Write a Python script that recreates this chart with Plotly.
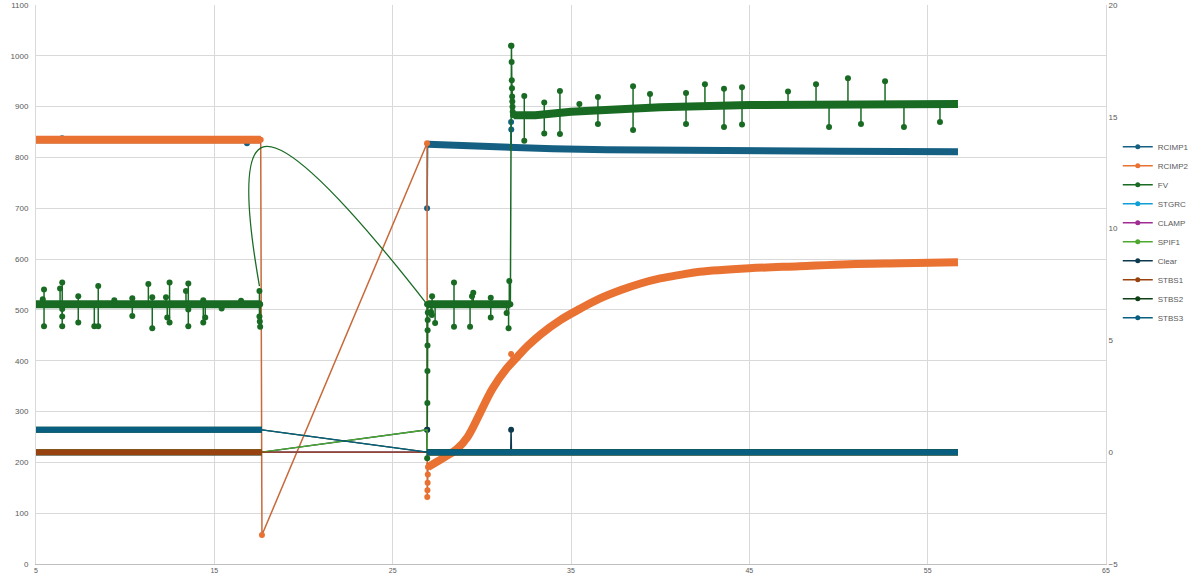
import numpy as np
import plotly.graph_objects as go

# ---------------- data (x = time, s) ----------------
# RCIMP1 (left axis)
rcimp1_a_t = [5.0, 17.6]
rcimp1_a_v = [835, 835]
rcimp1_b_t = [26.98, 29.0, 31.6, 34.0, 37.0, 42.0, 50.0, 56.7]
rcimp1_b_v = [826, 823, 820, 817, 815, 813, 812, 811]
rcimp1_jump_t = [26.93, 26.96]
rcimp1_jump_v = [700, 826]
rcimp1_spike_t = [6.46, 16.83, 31.64, 31.65]
rcimp1_spike_v = [838, 828, 870, 855]

# RCIMP2 (left axis)
rcimp2_a_t = [5.0, 17.6]
rcimp2_a_v = [835, 835]
rcimp2_link_t = [17.6, 17.67, 26.93, 26.94, 26.95, 26.96, 26.97, 26.98]
rcimp2_link_v = [835, 57, 828, 132, 145, 160, 176, 191]
rcimp2_b_t = [26.98, 27.8, 28.6, 29.2, 29.9, 30.6, 31.4, 32.0, 32.6, 33.3, 34.4,
              35.5, 36.6, 37.8, 38.9, 40.0, 41.1, 42.2, 45.0, 47.8, 50.6,
              53.5, 56.7]
rcimp2_b_v = [191, 208, 226, 250, 297, 345, 385, 408, 430, 452, 480,
              502, 522, 539, 552, 562, 569, 575, 582, 586, 590,
              592, 594]
rcimp2_spike_t = [31.64]
rcimp2_spike_v = [413]

# FV (left axis)
fv_a_t = [5.0, 17.6]
fv_a_v = [511, 511]
fv_b1_t = [26.98, 31.6]
fv_b1_v = [511, 511]
fv_b2_t = [31.8, 33.0, 35.0, 37.0, 40.0, 45.0, 50.0, 56.7]
fv_b2_v = [883, 883, 890, 895, 899, 903, 904, 905]
fv_gap_t = [17.53, 17.67, 26.93]
fv_gap_v = [547, 820, 511]
fv_rise_t = [26.93, 26.935, 26.94, 26.945, 26.95, 26.955, 26.96, 26.965, 26.97, 26.98]
fv_rise_v = [511, 208, 264, 317, 380, 430, 460, 480, 495, 511]
fv_jump_t = [31.6, 31.64, 31.66, 31.67, 31.68, 31.69, 31.7, 31.71, 31.72, 31.73, 31.75, 31.8]
fv_jump_v = [511, 1020, 1020, 988, 952, 936, 920, 910, 900, 890, 883, 883]
fv_spike_t = [5.38, 5.45, 5.45, 6.35, 6.47, 6.47, 6.47, 6.47, 7.37, 7.37, 8.27, 8.49, 8.49,
              9.39, 10.40, 10.40, 11.30, 11.52, 11.52, 12.29, 12.36, 12.49, 12.49, 13.41,
              13.54, 13.54, 13.54, 14.38, 14.38, 14.49, 15.41, 16.50, 17.53, 17.53, 17.55,
              17.57,
              27.15, 27.2, 27.21, 27.38, 28.44, 28.44, 29.34, 29.45, 29.52, 30.50, 30.50,
              31.39, 31.50, 31.54,
              32.38, 32.38, 33.50, 33.50, 34.38, 34.38, 35.47, 36.51, 36.51, 38.48, 38.48,
              39.43, 41.45, 41.45, 42.51, 43.58, 43.58, 44.59, 44.59, 47.17, 48.74, 49.47,
              50.53, 51.26, 52.61, 53.67, 55.69]
fv_spike_v = [521, 540, 468, 542, 554, 468, 487, 502, 527, 475, 468, 547, 468,
              519, 523, 488, 551, 525, 464, 525, 485, 554, 475, 537,
              552, 468, 501, 519, 475, 485, 503, 518, 537, 487, 477,
              467,
              496, 490, 527, 474, 554, 467, 467, 527, 534, 524, 485,
              494, 464, 557,
              921, 833, 908, 847, 931, 846, 905, 919, 866, 940, 854,
              925, 927, 866, 944, 935, 860, 938, 865, 930, 944, 860,
              956, 866, 950, 860, 870]

# Binary signals (right axis): points at start, gap start, gap end, end
stgrc_t, stgrc_v = [5.0, 17.67, 26.93, 56.7], [0, 0, 0, 0]
clamp_t, clamp_v = [5.0, 17.67, 26.93, 56.7], [0, 0, 0, 0]
clear_t = [5.0, 17.67, 26.93, 26.95, 31.62, 31.64, 31.66, 56.7]
clear_v = [0, 0, 1, 0, 0, 1, 0, 0]
spif1_t = [5.0, 17.67, 26.93, 26.95, 56.7]
spif1_v = [0, 0, 1, 0, 0]
stbs1_t = [5.0, 17.67, 26.93, 56.7]
stbs1_v = [0, 0, 0, 0]
stbs2_t = [5.0, 17.67, 26.93, 56.7]
stbs2_v = [1, 1, 0, 0]
stbs3_t = [5.0, 17.67, 26.93, 56.7]
stbs3_v = [1, 1, 0, 0]

names = ["RCIMP1", "RCIMP2", "FV", "STGRC", "CLAMP", "SPIF1", "Clear", "STBS1", "STBS2", "STBS3"]
colors = {"RCIMP1": "#156082", "RCIMP2": "#E97132", "FV": "#196B24", "STGRC": "#0F9ED5",
          "CLAMP": "#A02B93", "SPIF1": "#4EA72E", "Clear": "#0D3A4E", "STBS1": "#98430F",
          "STBS2": "#0F4016", "STBS3": "#095F80"}

fig = go.Figure()


def band(t, v, name, yaxis="y", width=8, shape="linear"):
    fig.add_trace(go.Scatter(x=t, y=v, mode="lines", yaxis=yaxis,
                             line=dict(color=colors[name], width=width, shape=shape),
                             showlegend=False, hoverinfo="skip"))


def detail(t, v, name, yaxis="y", shape="linear", width=1.5, msize=6, color=None, mode="lines+markers"):
    fig.add_trace(go.Scatter(x=t, y=v, mode=mode, yaxis=yaxis,
                             line=dict(color=color or colors[name], width=width, shape=shape),
                             marker=dict(color=colors[name], size=msize),
                             showlegend=False, hoverinfo="skip"))


def spikes(ts, vs, bt, bv):
    x, y = [], []
    for t, v in zip(ts, vs):
        b = float(np.interp(t, bt, bv))
        x += [t, t, None]
        y += [b, v, None]
    return x, y


# RCIMP1
band(rcimp1_a_t, rcimp1_a_v, "RCIMP1", width=7)
band(rcimp1_b_t, rcimp1_b_v, "RCIMP1", width=7)
sx, sy = spikes(rcimp1_spike_t, rcimp1_spike_v, rcimp1_a_t + rcimp1_b_t, rcimp1_a_v + rcimp1_b_v)
detail(rcimp1_jump_t + [None] + sx, rcimp1_jump_v + [None] + sy, "RCIMP1")

# RCIMP2
band(rcimp2_a_t, rcimp2_a_v, "RCIMP2", width=8)
band(rcimp2_b_t, rcimp2_b_v, "RCIMP2", width=8, shape="spline")
detail(rcimp2_link_t, rcimp2_link_v, "RCIMP2", color="#C8693A")
sx, sy = spikes(rcimp2_spike_t, rcimp2_spike_v, rcimp2_b_t, rcimp2_b_v)
detail(sx, sy, "RCIMP2")

# FV
band(fv_a_t, fv_a_v, "FV", width=8)
band(fv_b1_t, fv_b1_v, "FV", width=8)
band(fv_b2_t, fv_b2_v, "FV", width=8)
detail(fv_gap_t, fv_gap_v, "FV", shape="spline", width=1.3, mode="lines")
fig.data[-1].line.smoothing = 1.3
fv_bt = fv_a_t + fv_b1_t + fv_b2_t
fv_bv = fv_a_v + fv_b1_v + fv_b2_v
sx, sy = spikes(fv_spike_t, fv_spike_v, fv_bt, fv_bv)
detail(fv_rise_t + [None] + fv_jump_t + [None] + sx,
       fv_rise_v + [None] + fv_jump_v + [None] + sy, "FV")


def binary(nm, t, v, thick=True):
    # flat stretches drawn thick, transitions thin
    if thick:
        band(t[:2], v[:2], nm, yaxis="y2", width=6)
        band(t[-2:], v[-2:], nm, yaxis="y2", width=6)
    detail(t[1:], v[1:], nm, yaxis="y2", width=1.3, mode="lines")


binary("STGRC", stgrc_t, stgrc_v)
binary("CLAMP", clamp_t, clamp_v)
# Clear: thick flats, thin transitions, markers on the pulses
band(clear_t[:2], clear_v[:2], "Clear", yaxis="y2", width=6)
band(clear_t[3:5], clear_v[3:5], "Clear", yaxis="y2", width=6)
band(clear_t[6:], clear_v[6:], "Clear", yaxis="y2", width=6)
detail(clear_t[1:4], clear_v[1:4], "Clear", yaxis="y2", width=1.3, mode="lines")
detail(clear_t[2:3], clear_v[2:3], "Clear", yaxis="y2", mode="markers")
detail(clear_t[4:7], clear_v[4:7], "Clear", yaxis="y2", width=1.5)
binary("SPIF1", spif1_t, spif1_v)
binary("STBS1", stbs1_t, stbs1_v)
binary("STBS2", stbs2_t, stbs2_v)
binary("STBS3", stbs3_t, stbs3_v)

# legend entries
for nm in names:
    fig.add_trace(go.Scatter(x=[None], y=[None], mode="lines+markers", name=nm,
                             line=dict(color=colors[nm], width=1.5),
                             marker=dict(color=colors[nm], size=5),
                             showlegend=True, hoverinfo="skip",
                             yaxis="y2" if names.index(nm) > 2 else "y"))

grid = "#D9D9D9"
fig.update_layout(
    width=1188, height=575,
    margin=dict(l=36, r=82, t=5, b=11, autoexpand=False),
    plot_bgcolor="white", paper_bgcolor="white",
    font=dict(family="Liberation Sans, Arial, sans-serif", size=8, color="#595959"),
    xaxis=dict(range=[5, 65], tick0=5, dtick=10, showgrid=True, gridcolor=grid,
               showline=True, linecolor="#BFBFBF", zeroline=False, ticks="", automargin=False,
               tickfont=dict(size=7)),
    yaxis=dict(range=[0, 1100], dtick=100, showgrid=True, gridcolor=grid, showline=True,
               linecolor=grid, zeroline=False, ticks="", ticklabelstandoff=5, automargin=False),
    yaxis2=dict(range=[-5, 20], dtick=5, overlaying="y", side="right", showgrid=False,
                zeroline=False, showline=True, linecolor=grid, ticks="", automargin=False),
    legend=dict(x=1.011, y=0.7725, xanchor="left", yanchor="top", font=dict(size=8),
                itemwidth=30, bgcolor="rgba(0,0,0,0)", itemsizing="trace"),
    showlegend=True,
)

fig.write_html("out.html", config={"displayModeBar": False},
               post_script="document.body.style.margin='0px';")
